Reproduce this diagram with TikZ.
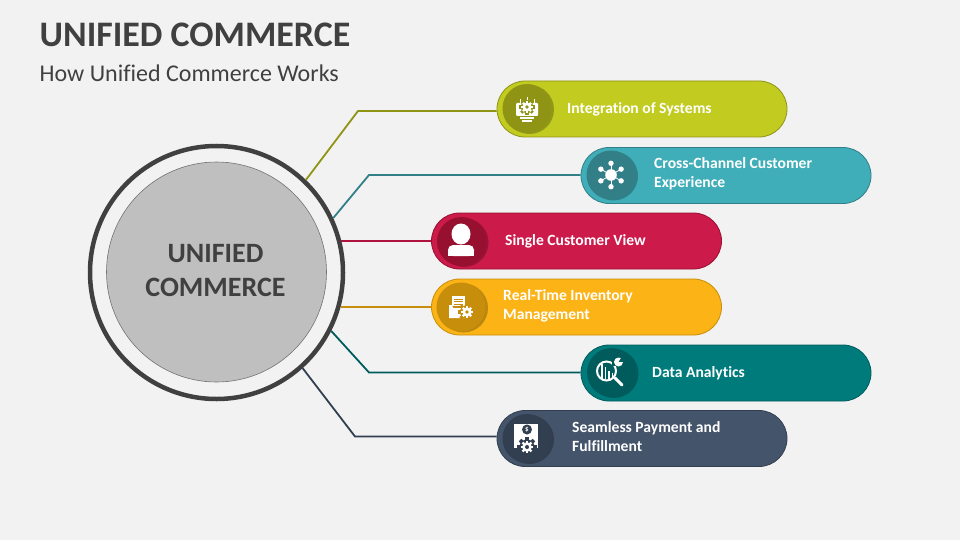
\documentclass[tikz,border=0pt]{standalone}
\usepackage{fontspec}
\setmainfont{Carlito}[Ligatures=NoCommon]
\usetikzlibrary{shapes.misc,shadows}

\definecolor{pagebg}{HTML}{F2F2F2}
\definecolor{titlegray}{HTML}{404040}
\definecolor{olivemain}{HTML}{C2CB20}
\definecolor{olivedark}{HTML}{8F9415}
\definecolor{tealmain}{HTML}{40AEB8}
\definecolor{tealdark}{HTML}{327F88}
\definecolor{redmain}{HTML}{CC1A4A}
\definecolor{reddark}{HTML}{98102F}
\definecolor{redline}{HTML}{B0123F}
\definecolor{ambermain}{HTML}{FBB316}
\definecolor{amberdark}{HTML}{C68E0A}
\definecolor{deepmain}{HTML}{007B7C}
\definecolor{deepdark}{HTML}{005B5C}
\definecolor{slatemain}{HTML}{44546A}
\definecolor{slatedark}{HTML}{323F50}

\tikzset{
  pill/.style={rounded rectangle,minimum width=290,minimum height=56,inner sep=0pt,line width=0.8pt},
  disc/.style={circle,minimum size=49,inner sep=0pt,drop shadow={fill=black,shadow xshift=2.5pt,shadow yshift=-1pt,opacity=.25}},
  label/.style={anchor=west,align=left,inner sep=0pt,text=white,font=\bfseries\fontsize{15.6}{19}\selectfont},
  link/.style={line width=1.8pt},
}

\newcommand{\gearicon}[4]{
  \fill[#4] #1 circle (#3);
  \foreach \a in {0,45,...,315}
    \draw[#4,line width=#3*0.5pt] #1 -- ++(\a:#3*1.3);
  \fill[#2] #1 circle (#3*0.42);
}

\begin{document}
\begin{tikzpicture}[x=1pt,y=-1pt]
  \fill[pagebg] (0,0) rectangle (960,540);
  \useasboundingbox (0,0) rectangle (960,540);

  % heading
  \node[anchor=west,inner sep=0pt,text=titlegray,font=\bfseries\fontsize{35.9}{40}\selectfont] (title) at (39.5,34.5) {UNIFIED COMMERCE};
  \node[anchor=west,inner sep=0pt,text=titlegray,font=\fontsize{24}{28}\selectfont] (subtitle) at (39.5,73.5) {How Unified Commerce Works};

  % hub
  \node[circle,draw=titlegray,line width=4.5pt,minimum size=253,inner sep=0pt] (ring) at (216.5,272.5) {};
  \node[circle,draw=black!55,fill=black!25,line width=0.6pt,minimum size=220,inner sep=0pt] (hub) at (216.5,272) {};
  \node[align=center,inner sep=0pt,text=titlegray,font=\bfseries\fontsize{28}{34}\selectfont] (hubtext) at (215.5,270.5) {UNIFIED\\COMMERCE};

  % pills
  \node[pill,fill=olivemain,draw=olivedark] (pillA) at (642,109) {};
  \node[pill,fill=tealmain,draw=tealdark] (pillB) at (726,175.5) {};
  \node[pill,fill=redmain,draw=reddark] (pillC) at (576.5,241) {};
  \node[pill,fill=ambermain,draw=amberdark] (pillD) at (576.5,307) {};
  \node[pill,fill=deepmain,draw=deepdark] (pillE) at (726,373) {};
  \node[pill,fill=slatemain,draw=slatedark] (pillF) at (642,438.5) {};

  % connectors
  \coordinate (kneeA) at (358,111);
  \coordinate (kneeB) at (369,175);
  \coordinate (kneeE) at (369,372.5);
  \coordinate (kneeF) at (355,436.5);
  \draw[link,olivedark] (ring.46.7) -- (kneeA) -- (kneeA -| pillA.west);
  \draw[link,tealdark] (ring.25.6) -- (kneeB) -- (kneeB -| pillB.west);
  \draw[link,redline] (ring.14 |- pillC.west) -- (pillC.west);
  \draw[link,amberdark] (ring.-15.5 |- pillD.west) -- (pillD.west);
  \draw[link,deepdark] (ring.-27) -- (kneeE) -- (kneeE -| pillE.west);
  \draw[link,slatedark] (ring.-48.7) -- (kneeF) -- (kneeF -| pillF.west);

  % icon discs
  \node[disc,fill=olivedark] (discA) at (527,108.5) {};
  \node[disc,fill=tealdark] (discB) at (611,175) {};
  \node[disc,fill=reddark] (discC) at (461.5,241.5) {};
  \node[disc,fill=amberdark] (discD) at (461,307) {};
  \node[disc,fill=deepdark] (discE) at (611.5,372.5) {};
  \node[disc,fill=slatedark] (discF) at (527,438.5) {};

  % labels
  \node[label] (textA) at (567,109) {Integration of Systems};
  \node[label] (textB) at (654,173.5) {Cross-Channel Customer\\Experience};
  \node[label] (textC) at (505,241) {Single Customer View};
  \node[label] (textD) at (503,305.5) {Real-Time Inventory\\Management};
  \node[label] (textE) at (652,373) {Data Analytics};
  \node[label] (textF) at (572,437) {Seamless Payment and\\Fulfillment};

  % icon: monitor
  \fill[white,rounded corners=1] (516,103) rectangle (538,116);
  \fill[white] (520,117.5) rectangle (534,119.5);
  \fill[white] (522,120) rectangle (532,122);
  \gearicon{(527,107)}{olivedark}{6.2}{olivedark}
  \gearicon{(527,107)}{olivedark}{4.4}{white}
  \draw[white,line width=0.9pt] (527,97) -- (527,100);
  \draw[white,line width=0.9pt] (520,99) -- (520,103) -- (517,103);
  \draw[white,line width=0.9pt] (534,99) -- (534,103) -- (537,103);

  % icon: hub
  \fill[white] (611,175) circle (5.8);
  \foreach \a in {30,90,...,330} {
    \draw[white,line width=0.8pt] (611,175) -- ++(\a:11.5);
    \fill[white] (611,175) ++(\a:11.7) circle (2.7);
  }

  % icon: person
  \fill[white] (461,234) ellipse (9.5 and 10.5);
  \fill[white,rounded corners=5] (448,256) -- (448,245) -- (474,245) -- (474,256) -- cycle;
  \fill[white] (448,251) rectangle (474,256);

  % icon: folder
  \fill[white] (452,296) rectangle (465,306);
  \draw[amberdark,line width=0.6pt] (454,299) -- (463,299) (454,301.5) -- (463,301.5) (454,304) -- (463,304);
  \fill[white] (449,305) -- (449,318) -- (465,318) -- (468,308) -- (453,308) -- (452,305) -- cycle;
  \gearicon{(467,312)}{amberdark}{7}{amberdark}
  \gearicon{(467,312)}{amberdark}{4.6}{white}

  % icon: analytics
  \draw[white,line width=2pt] (606.5,371) circle (9.5);
  \fill[deepdark] (612,359) rectangle (620,366);
  \foreach \x/\y in {602/364,605.5/367,609/371,612.5/373}
    \draw[white,line width=1.6pt] (\x,\y) -- (\x,379);
  \draw[white,line width=3pt,line cap=round] (615,378) -- (622,385);
  \fill[white] (618.5,362) -- ++(0:4.5) arc (0:300:4.5) -- cycle;

  % icon: payment
  \fill[white] (514,424) rectangle (538,448);
  \fill[slatedark] (527,429.5) circle (5);
  \node[inner sep=0pt,text=white,font=\bfseries\fontsize{7}{7}\selectfont] (dollar) at (527,429.5) {\$};
  \gearicon{(527,447)}{slatedark}{7.5}{slatedark}
  \gearicon{(527,447)}{slatedark}{4.8}{white}
\end{tikzpicture}
\end{document}
